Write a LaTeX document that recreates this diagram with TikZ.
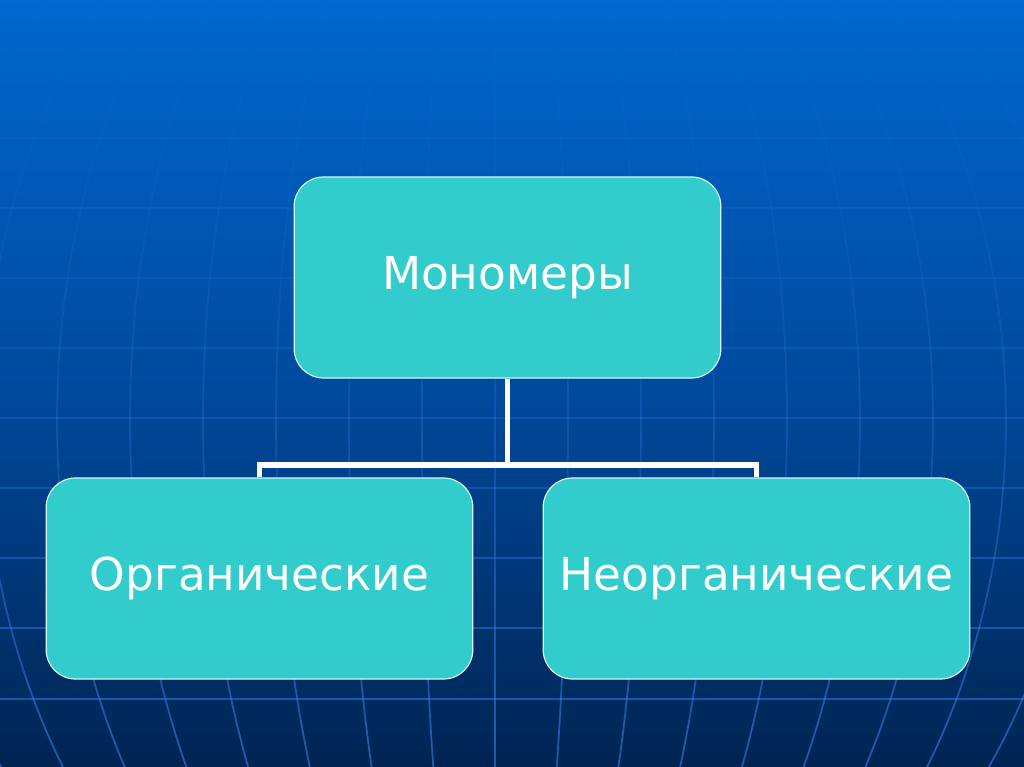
\documentclass[tikz,border=0pt]{standalone}
\usepackage{fontspec}
\setmainfont{DejaVu Sans}
\definecolor{bgtop}{RGB}{0,104,206}
\definecolor{bgmid}{RGB}{0,74,158}
\definecolor{bgbot}{RGB}{0,36,82}
\definecolor{gridc}{RGB}{50,140,245}
\definecolor{boxfill}{RGB}{51,204,204}
\definecolor{boxline}{RGB}{215,245,245}
\tikzset{
  gridline/.style={draw=gridc, line width=1.3pt},
  termbox/.style={rectangle, rounded corners=22pt, fill=boxfill, draw=boxline, line width=0.9pt,
    minimum width=320pt, minimum height=150.75pt, inner sep=0pt, text=white,
    font=\fontsize{34}{40}\selectfont},
  conn/.style={draw=white, line width=4.4pt, line join=miter}
}
\newcommand{\lowtext}[1]{\raisebox{-5pt}{#1}}
\begin{document}
\begin{tikzpicture}[x=0.75pt, y=-0.75pt]
\useasboundingbox (0,0) rectangle (1024,767);
\shade[top color=bgtop, bottom color=bgbot, middle color=bgmid] (0,0) rectangle (1024,767);
% faint grid: horizontals
\foreach \yy in {68,138,208,278,348,418,488,558,628,699} {
  \pgfmathsetmacro\op{0.04+0.5*(\yy/767)^1.6}
  \draw[gridline, opacity=\op] (0,\yy) -- (1024,\yy);
}
% curved meridians, fading towards the top
\foreach \s in {0,...,15} {
  \pgfmathsetmacro\ya{\s*48}
  \pgfmathsetmacro\yb{\s*48+48}
  \pgfmathsetmacro\op{0.03+0.55*((\s*48+24)/767)^1.6}
  \foreach \k in {-8,...,8} {
    \draw[gridline, opacity=\op] plot[domain=\ya:\yb, samples=4, variable=\t]
      ({495+73*\k*sqrt(1-((\t-420)/650)^2)}, \t);
  }
}
\node[termbox] (top) at (507.5,277.5) {\lowtext{Мономеры}};
\node[termbox] (left) at (259.5,578.5) {\lowtext{Органические}};
\node[termbox] (right) at (756.5,578.5) {\lowtext{Неорганические}};
\coordinate (bus) at (507.5,465);
\draw[conn] (top.south) -- (top.south |- bus);
\draw[conn] (left.north) -- (left.north |- bus) -- (right.north |- bus) -- (right.north);
\end{tikzpicture}
\end{document}
